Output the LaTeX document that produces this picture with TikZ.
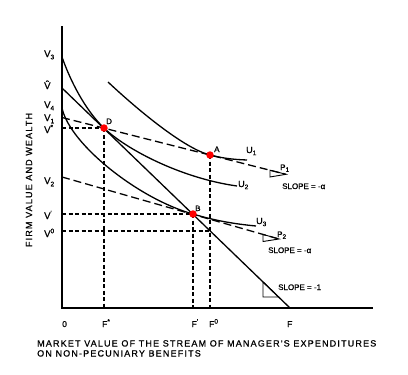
\documentclass[tikz,border=0pt]{standalone}
\usepackage{fontspec}
\newfontfamily\labfont[FakeBold=0.8]{Liberation Sans}
\newfontfamily\capfont[LetterSpace=13,FakeBold=0.8]{Liberation Sans}
\newcommand\sbs[1]{\raisebox{-0.45ex}{\fontsize{6.5}{6.5}\selectfont #1}}
\newcommand\sps[1]{\raisebox{0.75ex}{\fontsize{6.5}{6.5}\selectfont #1}}
\begin{document}
\begin{tikzpicture}[x=1pt,y=-1pt,
  curve/.style={line width=1.3pt},
  axisline/.style={line width=1.3pt},
  longdash/.style={line width=1.3pt,dash pattern=on 8pt off 4pt},
  shortdash/.style={line width=1.4pt,dash pattern=on 4pt off 2.5pt},
  tri/.style={line width=0.9pt},
  dot/.style={circle,fill=red,inner sep=0pt,minimum size=7.5pt},
  vlab/.style={font=\labfont\fontsize{9.5}{9.5}\selectfont,inner sep=0pt,anchor=base west},
  flab/.style={font=\labfont\fontsize{8.5}{8.5}\selectfont,inner sep=0pt,anchor=base west},
  plab/.style={font=\labfont\fontsize{8}{8}\selectfont,inner sep=0pt,anchor=base west},
  ulab/.style={font=\labfont\fontsize{9}{9}\selectfont,inner sep=0pt,anchor=base west},
  slab/.style={font=\labfont\fontsize{8}{8}\selectfont,inner sep=0pt,anchor=base west},
  caplab/.style={font=\capfont\fontsize{9}{9}\selectfont,inner sep=0pt,anchor=base west}]
\fill[white] (0,0) rectangle (408,375);
\useasboundingbox (0,0) rectangle (408,375);
% key points
\coordinate (ytop) at (62,26);
\coordinate (O) at (62,308);
\coordinate (xend) at (373,308);
\coordinate (V3) at (62,57);
\coordinate (Vh) at (62,88);
\coordinate (V4) at (62,108);
\coordinate (V1) at (62,117.5);
\coordinate (Vs) at (62,128);
\coordinate (V2) at (62,177);
\coordinate (Vp) at (62,214);
\coordinate (V0) at (62,231);
\coordinate (D) at (104,128);
\coordinate (A) at (210,155);
\coordinate (B) at (193,214);
\coordinate (Fend) at (290,308);
\coordinate (Fs) at (104,308);
\coordinate (Fp) at (193,308);
\coordinate (F0) at (210,308);
\coordinate (F0pt) at (210,231);
\coordinate (U1start) at (108,82);
\coordinate (U1end) at (247,160);
\coordinate (U2end) at (237,186);
\coordinate (U3end) at (256,226);
\coordinate (P1end) at (286,174.3);
\coordinate (P2end) at (279,239);
% axes
\draw[axisline] (ytop) -- (O) -- (xend);
% budget line, slope -1
\draw[curve] (Vh) -- (Fend);
% indifference curves
\draw[curve] (V3) .. controls (70,80) and (85,110) .. (D)
  .. controls (125,148.5) and (180,178) .. (U2end);
\draw[curve] (V4) .. controls (70,145) and (140,199.5) .. (B)
  .. controls (215,220.7) and (235,224) .. (U3end);
\draw[curve] (U1start) .. controls (140,112) and (185,148.7) .. (A)
  .. controls (225,158.8) and (235,159.5) .. (U1end);
% price lines
\draw[longdash] (V1) -- (P1end);
\draw[longdash] (V2) -- (P2end);
% slope triangles
\draw[tri] (270,170.2) -- (270,177) -- (P1end) -- cycle;
\draw[tri] (263,234.4) -- (263,241.5) -- (P2end) -- cycle;
\draw[tri] (263,281.9) -- (263,297) -- (278.6,297) -- cycle;
% drop lines
\draw[shortdash] (Vs) -- (D);
\draw[shortdash] (Vp) -- (B);
\draw[shortdash] (V0) -- (F0pt);
\draw[shortdash] (D) -- (Fs);
\draw[shortdash] (B) -- (Fp);
\draw[shortdash] (A) -- (F0);
% dots
\node[dot] (dD) at (D) {};
\node[dot] (dA) at (A) {};
\node[dot] (dB) at (B) {};
% vertical axis labels
\node[vlab] (lV3) at (44,57) {V\sbs{3}};
\node[vlab] (lVh) at (44,89) {\^{V}};
\node[vlab] (lV4) at (44,108) {V\sbs{4}};
\node[vlab] (lV1) at (44,121) {V\sbs{1}};
\node[vlab] (lVs) at (44,133) {V\sps{*}};
\node[vlab] (lV2) at (44,184) {V\sbs{2}};
\node[vlab] (lVp) at (44,219) {V\sps{'}};
\node[vlab] (lV0) at (44,237) {V\sps{0}};
% horizontal axis labels
\node[flab] (lO) at (62,327) {0};
\node[flab] (lFs) at (102,327) {F\sps{*}};
\node[flab] (lFp) at (191.5,327) {F\sps{'}};
\node[flab] (lF0) at (209,327) {F\sps{0}};
\node[flab] (lF) at (287,327) {F};
% point labels
\node[plab] (lD) at (106,124) {D};
\node[plab] (lA) at (214,152) {A};
\node[plab] (lB) at (195,211) {B};
\node[ulab] (lU1) at (246,153) {U\sbs{1}};
\node[ulab] (lU2) at (238,187) {U\sbs{2}};
\node[ulab] (lU3) at (256,224) {U\sbs{3}};
\node[plab] (lP1) at (280,170) {P\sbs{1}};
\node[plab] (lP2) at (277,237) {P\sbs{2}};
\node[slab] (s1) at (282,189) {SLOPE = -α};
\node[slab] (s2) at (268,253) {SLOPE = -α};
\node[slab] (s3) at (278,290) {SLOPE = -1};
% axis titles
\node[font=\capfont\fontsize{9}{9}\selectfont,inner sep=0pt,rotate=90] (ytitle) at (29,180) {FIRM VALUE AND WEALTH};
\node[caplab] (cap1) at (37,346.5) {MARKET VALUE OF THE STREAM OF MANAGER'S EXPENDITURES};
\node[caplab] (cap2) at (37,356.5) {ON NON-PECUNIARY BENEFITS};
\end{tikzpicture}
\end{document}
